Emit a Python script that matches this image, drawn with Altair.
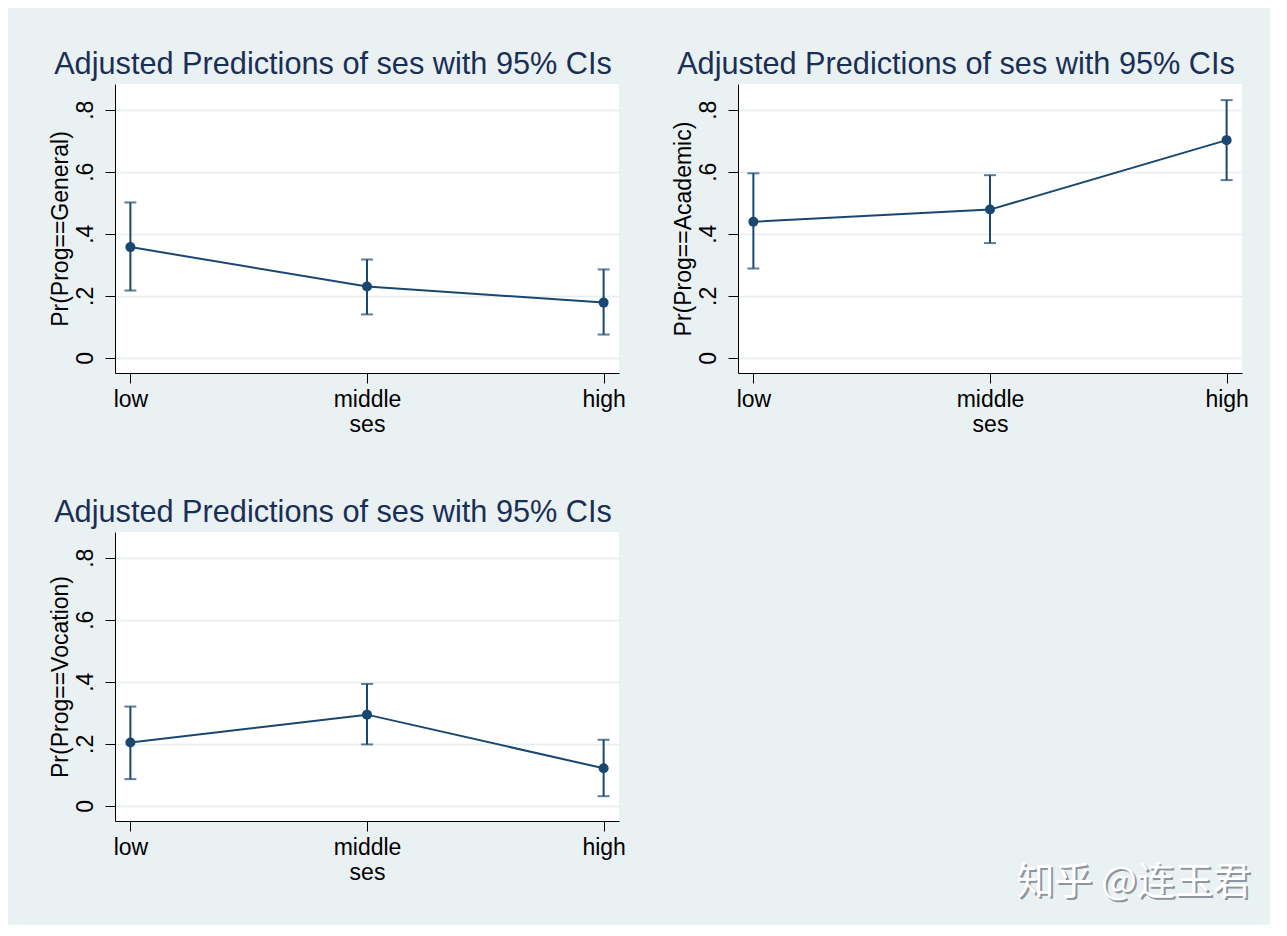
import json
import altair as alt
import pandas as pd

# ---- data ----
ses_levels = ["low", "middle", "high"]

general_pred = [0.357, 0.230, 0.178]
general_lo = [0.217, 0.140, 0.075]
general_hi = [0.501, 0.317, 0.285]

academic_pred = [0.439, 0.478, 0.702]
academic_lo = [0.288, 0.370, 0.573]
academic_hi = [0.595, 0.589, 0.831]

vocation_pred = [0.204, 0.294, 0.121]
vocation_lo = [0.086, 0.198, 0.031]
vocation_hi = [0.320, 0.393, 0.213]

y_ticks = [0, 0.2, 0.4, 0.6, 0.8]
panel_title = "Adjusted Predictions of ses with 95% CIs"
watermark = "知乎 @连玉君"

NAVY = "#1a476f"
TITLE_C = "#1a2f55"
FONT = "Liberation Sans"
W, H = 504, 289

label_expr_x = json.dumps(ses_levels) + "[datum.value]"
label_expr_y = "datum.value == 0 ? '0' : '.' + format(round(datum.value * 10), 'd')"


def panel(pred, lo, hi, ytitle, extra=None):
    df = pd.DataFrame({
        "ses": ses_levels,
        "idx": list(range(len(ses_levels))),
        "pred": pred,
        "lo": lo,
        "hi": hi,
    })
    x = alt.X("idx:Q",
              scale=alt.Scale(domain=[-0.065, 2.065], nice=False, zero=False),
              axis=alt.Axis(values=[0, 1, 2], labelExpr=label_expr_x, title="ses",
                            grid=False, labelPadding=5, titlePadding=2))
    y = alt.Y("pred:Q",
              scale=alt.Scale(domain=[-0.049, 0.883], nice=False, zero=False),
              axis=alt.Axis(values=y_ticks, labelExpr=label_expr_y, title=ytitle,
                            grid=True, labelAngle=270, labelAlign="center",
                            labelBaseline="alphabetic", labelPadding=13,
                            titlePadding=2))
    base = alt.Chart(df)
    line = base.mark_line(color=NAVY, strokeWidth=2).encode(x=x, y=y)
    rule = base.mark_rule(color=NAVY, strokeWidth=2).encode(x="idx:Q", y="lo:Q", y2="hi:Q")
    cap_lo = base.mark_tick(color=NAVY, orient="horizontal", size=12, thickness=2).encode(x="idx:Q", y="lo:Q")
    cap_hi = base.mark_tick(color=NAVY, orient="horizontal", size=12, thickness=2).encode(x="idx:Q", y="hi:Q")
    pts = base.mark_circle(color=NAVY, size=100, opacity=1).encode(x="idx:Q", y="pred:Q")
    layers = [line, rule, cap_lo, cap_hi, pts]
    if extra is not None:
        layers += extra
    return alt.layer(*layers).properties(
        width=W, height=H,
        title=alt.TitleParams(panel_title, anchor="middle", frame="group",
                              fontSize=30.7, font=FONT, fontWeight="normal",
                              color=TITLE_C, baseline="alphabetic", offset=-21, dx=-34),
    )


wm_df = pd.DataFrame({"t": [watermark]})
wm_shadow = alt.Chart(wm_df).mark_text(
    font="Noto Sans CJK SC", fontSize=38, align="right", baseline="middle",
    color="#8f959a", dx=2, dy=2
).encode(text="t:N", x=alt.value(1136), y=alt.value(351))
wm_front = alt.Chart(wm_df).mark_text(
    font="Noto Sans CJK SC", fontSize=38, align="right", baseline="middle",
    color="#ffffff"
).encode(text="t:N", x=alt.value(1136), y=alt.value(351))

p1 = panel(general_pred, general_lo, general_hi, "Pr(Prog==General)")
p2 = panel(academic_pred, academic_lo, academic_hi, "Pr(Prog==Academic)")
p3 = panel(vocation_pred, vocation_lo, vocation_hi, "Pr(Prog==Vocation)",
           extra=[wm_shadow, wm_front])

chart = alt.concat(p1, p2, p3, columns=2).properties(
    spacing={"row": 159, "column": 119},
    bounds="flush",
    background="#eaf1f3",
    padding={"left": 41, "top": 41, "right": 17, "bottom": 21},
).configure_view(
    fill="white", strokeWidth=0
).configure_axis(
    domainColor="black", tickColor="black", domainWidth=1, tickWidth=1, tickSize=10,
    labelFont=FONT, labelFontSize=23, labelColor="black",
    titleFont=FONT, titleFontSize=23, titleFontWeight="normal", titleColor="black",
    gridColor="#e6eef0", gridWidth=1.5,
)

chart.save("out.html", embed_options={"renderer": "svg", "actions": False})
